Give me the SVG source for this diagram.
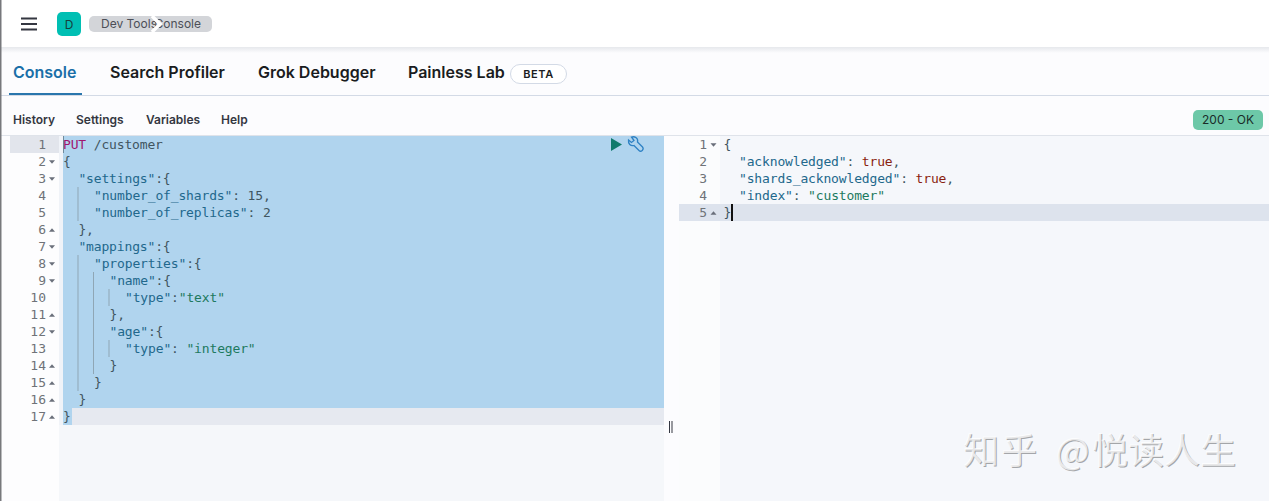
<svg xmlns="http://www.w3.org/2000/svg" width="1269" height="501" viewBox="0 0 1269 501">
<style>
.ui{font-family:Inter,"Liberation Sans",sans-serif}
.tab{font-size:16px;font-weight:600;fill:#1a1c21}
.menu{font-size:12px;font-weight:600;fill:#343741}
.code text,.out text{font-family:"DejaVu Sans Mono","Liberation Mono",monospace;font-size:13px;letter-spacing:-.15px;white-space:pre}
.num{font-family:"DejaVu Sans Mono","Liberation Mono",monospace;font-size:13px;fill:#6f7378;text-anchor:end}
.k{fill:#22688c}.s{fill:#1d7a60}.p{fill:#405560}.m{fill:#a0156f}.b{fill:#8a1f11}
.g{stroke:#8fa6b5;stroke-width:1;fill:none}
.fu{fill:#6a6f7a}
.wm{font-family:"Noto Sans CJK SC",sans-serif;font-size:36px}
</style>
<defs>
<path id="up" d="M-3 1.800L0 -1.800L3 1.800Z"/>
<path id="dn" d="M-3 -1.800L0 1.800L3 -1.800Z"/>
<linearGradient id="sh" x1="0" y1="0" x2="0" y2="1"><stop offset="0" stop-color="#e6e8ec"/><stop offset="1" stop-color="#fcfcfe"/></linearGradient>
</defs>
<rect width="1269" height="501" fill="#fcfcfe"/>
<g id="header">
<rect x="1" y="0" width="1268" height="47" fill="#ffffff"/>
<rect x="1" y="47" width="1268" height="6" fill="url(#sh)"/>
<path d="M21 18.500H37M21 24H37M21 29.500H37" stroke="#343741" stroke-width="2"/>
<rect x="57" y="12" width="24" height="24" rx="5" fill="#00bfb3"/>
<text x="69" y="28.500" class="ui" font-size="12" text-anchor="middle" fill="#16403d">D</text>
<rect x="89" y="16" width="123" height="16" rx="5" fill="#d3d5d9"/>
<text x="101" y="28" class="ui" font-size="12" fill="#4c4f57">Dev Tools</text>
<text x="154.500" y="28" class="ui" font-size="12" fill="#4c4f57">Console</text>
<path d="M152 16L160 24L152 32" fill="none" stroke="#ffffff" stroke-width="3.500"/>
</g>
<g id="tabs">
<text x="13" y="78" class="ui tab" style="fill:#1a6fa8">Console</text>
<rect x="9" y="93" width="73" height="3" fill="#2a76ad"/>
<text x="110" y="78" class="ui tab">Search Profiler</text>
<text x="258" y="78" class="ui tab">Grok Debugger</text>
<text x="408" y="78" class="ui tab">Painless Lab</text>
<rect x="510.500" y="64.500" width="56" height="19" rx="9.500" fill="#ffffff" stroke="#d3dae6"/>
<text x="538.500" y="78" class="ui" font-size="11" font-weight="600" letter-spacing=".6" text-anchor="middle" fill="#1a1c21">BETA</text>
<rect x="1" y="95" width="1268" height="1" fill="#d3dae6"/>
</g>
<g id="menu">
<text x="13" y="124" class="ui menu">History</text>
<text x="76" y="124" class="ui menu">Settings</text>
<text x="146" y="124" class="ui menu">Variables</text>
<text x="221" y="124" class="ui menu">Help</text>
<rect x="1193" y="110" width="70" height="20" rx="5" fill="#6dc8a8"/>
<text x="1228" y="124" class="ui" font-size="12" text-anchor="middle" fill="#1a2c28">200 - OK</text>
<rect x="1" y="135" width="1268" height="1" fill="#dfe3ea"/>
</g>
<g id="request-editor">
<rect x="10" y="136" width="654" height="365" fill="#f5f7fa"/>
<rect x="10" y="136" width="49" height="365" fill="#fdfdfe"/>
<rect x="10" y="136" width="49" height="17" fill="#e2e5ec"/>
<rect x="59" y="136" width="4" height="289" fill="#f0f3f8"/>
<rect x="63" y="408" width="601" height="17" fill="#e6e9f0"/>
<rect x="63" y="136" width="601" height="272" fill="#b0d4ee"/>
<rect x="63" y="408" width="9" height="17" fill="#b0d4ee"/>
<rect x="63" y="136" width="1" height="17" fill="#6f8a9c"/>
<path class="g" d="M78 187V221M78 255V391M93.500 272V374M109 289V306M109 340V357"/>
<g class="num">
<text x="46" y="149">1</text><text x="46" y="166">2</text><text x="46" y="183">3</text><text x="46" y="200">4</text><text x="46" y="217">5</text><text x="46" y="234">6</text><text x="46" y="251">7</text><text x="46" y="268">8</text><text x="46" y="285">9</text><text x="46" y="302">10</text><text x="46" y="319">11</text><text x="46" y="336">12</text><text x="46" y="353">13</text><text x="46" y="370">14</text><text x="46" y="387">15</text><text x="46" y="404">16</text><text x="46" y="421">17</text>
</g>
<g class="fu">
<use href="#dn" x="52" y="162"/><use href="#dn" x="52" y="179"/><use href="#up" x="52" y="230"/><use href="#dn" x="52" y="247"/><use href="#dn" x="52" y="264"/><use href="#dn" x="52" y="281"/><use href="#up" x="52" y="315"/><use href="#dn" x="52" y="332"/><use href="#up" x="52" y="366"/><use href="#up" x="52" y="383"/><use href="#up" x="52" y="400"/><use href="#up" x="52" y="417"/>
</g>
<g class="code">
<text x="63" y="149"><tspan class="m">PUT</tspan><tspan class="p"> /customer</tspan></text>
<text x="63" y="166" class="p">{</text>
<text x="78.400" y="183"><tspan class="k">"settings"</tspan><tspan class="p">:{</tspan></text>
<text x="94" y="200"><tspan class="k">"number_of_shards"</tspan><tspan class="p">: 15,</tspan></text>
<text x="94" y="217"><tspan class="k">"number_of_replicas"</tspan><tspan class="p">: 2</tspan></text>
<text x="78.400" y="234" class="p">},</text>
<text x="78.400" y="251"><tspan class="k">"mappings"</tspan><tspan class="p">:{</tspan></text>
<text x="94" y="268"><tspan class="k">"properties"</tspan><tspan class="p">:{</tspan></text>
<text x="109.500" y="285"><tspan class="k">"name"</tspan><tspan class="p">:{</tspan></text>
<text x="125" y="302"><tspan class="k">"type"</tspan><tspan class="p">:</tspan><tspan class="s">"text"</tspan></text>
<text x="109.500" y="319" class="p">},</text>
<text x="109.500" y="336"><tspan class="k">"age"</tspan><tspan class="p">:{</tspan></text>
<text x="125" y="353"><tspan class="k">"type"</tspan><tspan class="p">: </tspan><tspan class="s">"integer"</tspan></text>
<text x="109.500" y="370" class="p">}</text>
<text x="94" y="387" class="p">}</text>
<text x="78.400" y="404" class="p">}</text>
<text x="63" y="421" class="p">}</text>
</g>
<path d="M611 138L622 144.500L611 151Z" fill="#0f7a6c"/>
<g fill="none" stroke="#2f82c4" stroke-width="1.300">
<path d="M628.500 140L631.500 142.500L634 140.500L631.500 137C635 136 638.500 138.500 637.500 142L642.500 147C644.500 149.500 641 152.500 639 150.500L634 145.500C630.500 146.500 628 143.500 628.500 140Z"/>
</g>
</g>
<g id="divider">
<path d="M669.500 421V433M672 421V433" stroke="#343741" stroke-width="1"/>
</g>
<g id="response-editor">
<rect x="679" y="136" width="590" height="365" fill="#f5f7fb"/>
<rect x="679" y="136" width="41" height="365" fill="#fbfcfd"/>
<rect x="679" y="204" width="590" height="17" fill="#dde3ed"/>
<g class="num">
<text x="707" y="149">1</text><text x="707" y="166">2</text><text x="707" y="183">3</text><text x="707" y="200">4</text><text x="707" y="217">5</text>
</g>
<g class="fu"><use href="#dn" x="713.500" y="145"/><use href="#up" x="713.500" y="213"/></g>
<g class="out">
<text x="723.500" y="149" class="p">{</text>
<text x="739" y="166"><tspan class="k">"acknowledged"</tspan><tspan class="p">: </tspan><tspan class="b">true</tspan><tspan class="p">,</tspan></text>
<text x="739" y="183"><tspan class="k">"shards_acknowledged"</tspan><tspan class="p">: </tspan><tspan class="b">true</tspan><tspan class="p">,</tspan></text>
<text x="739" y="200"><tspan class="k">"index"</tspan><tspan class="p">: </tspan><tspan class="s">"customer"</tspan></text>
<text x="723.500" y="217" class="p">}</text>
</g>
<rect x="731" y="204" width="2" height="17" fill="#111111"/>
</g>
<g id="watermark">
<text class="wm" x="964" y="465" letter-spacing="2" fill="#a4a6a9">知乎</text>
<text class="wm" x="1056.500" y="465" fill="#a4a6a9">@</text>
<text class="wm" x="1093" y="465" fill="#a4a6a9">悦读人生</text>
<text class="wm" x="963" y="464" letter-spacing="2" fill="#ffffff" opacity=".75">知乎</text>
<text class="wm" x="1055.500" y="464" fill="#ffffff" opacity=".75">@</text>
<text class="wm" x="1092" y="464" fill="#ffffff" opacity=".75">悦读人生</text>
</g>
<rect x="0" width="1.500" height="501" fill="#77787c"/>
</svg>
